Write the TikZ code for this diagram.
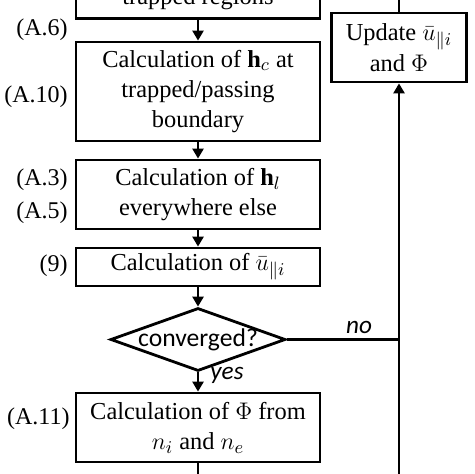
\documentclass[tikz,border=0pt]{standalone}
\usepackage{fontspec}
\setmainfont{Liberation Serif}
\newfontfamily\calibri{Carlito}
\usetikzlibrary{arrows.meta,shapes.geometric}
\begin{document}
\begin{tikzpicture}[x=0.5pt,y=-0.5pt,line width=1.4pt,
    box/.style={draw,minimum width=122pt,align=center,inner sep=0pt,
      font=\fontsize{12.2}{15.2}\selectfont},
    eqn/.style={anchor=east,inner sep=0pt,font=\fontsize{12}{15}\selectfont},
    tag/.style={inner sep=0pt,font=\calibri\itshape\fontsize{12.6}{14}\selectfont},
    arr/.style={-{Triangle[width=5.5pt,length=5pt]}}]
    \useasboundingbox(0,0)rectangle(474,474);
    \clip(0,0)rectangle(474,474);
    \node[box,minimum height=34.5pt,anchor=south](trap)at(198,20){\vphantom{C}\\trapped regions};
    \node[box,minimum height=49.5pt](hc)at(198,91.5){Calculation of $\mathbf{h}_c$ at\\trapped/passing\\boundary};
    \node[box,minimum height=34.5pt](hl)at(198,194.5){Calculation of $\mathbf{h}_l$\\everywhere else};
    \node[box,minimum height=19pt](upar)at(198,267){Calculation of $\bar{u}_{\parallel i}$};
    \node[draw,diamond,aspect=2.8,inner sep=-2.5pt,minimum width=87.5pt,minimum height=31.5pt,
      font=\calibri\fontsize{12.8}{14}\selectfont](conv)at(198,339.5){converged?};
    \node[box,minimum height=34.5pt](phi)at(198,427.5){Calculation of $\Phi$ from\\$n_i$ and $n_e$};
    \node[box,minimum width=67.5pt,minimum height=34.5pt](upd)at(399,47.5){Update $\bar{u}_{\parallel i}$\\and $\Phi$};
    % equation numbers
    \node[eqn](eqAsix)at(69,30){(A.6)};
    \node[eqn](eqAten)at(69,97){(A.10)};
    \node[eqn](eqAthree)at(69,180){(A.3)};
    \node[eqn](eqAfive)at(69,213){(A.5)};
    \node[eqn](eqnine)at(69,266){(9)};
    \node[eqn](eqAeleven)at(71,419){(A.11)};
    \node[tag](no)at(359,327){no};
    \node[tag](yes)at(227,375){yes};
    \coordinate(rb)at(399,474);\coordinate(rt)at(399,0);
    \coordinate(bb)at(198,474);\coordinate(j)at(399,339.5);
    \draw[arr](trap)--(hc);\draw[arr](hc)--(hl);
    \draw[arr](hl)--(upar);\draw[arr](upar)--(conv);
    \draw[arr](conv)--(phi);\draw(phi)--(bb);
    \draw(conv.east)--(j);
    \draw[arr](rb)--(upd);\draw(upd)--(rt);
\end{tikzpicture}
\end{document}
